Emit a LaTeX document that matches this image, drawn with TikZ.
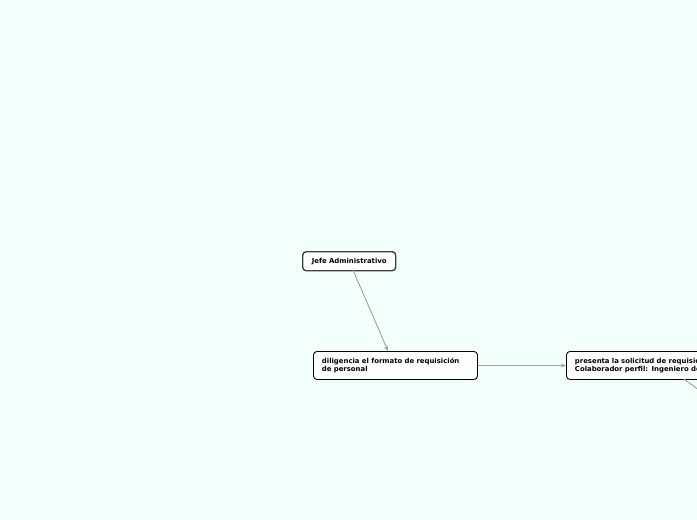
\documentclass[tikz,border=0pt]{standalone}
\usepackage{fontspec}
\setmainfont{DejaVu Sans}
\usetikzlibrary{arrows.meta}
\definecolor{bgc}{RGB}{242,255,250}
\definecolor{linec}{RGB}{160,160,160}
\tikzset{
  box/.style={draw=black, line width=0.9pt, fill=white, rounded corners=3.5pt, anchor=north west, align=left, inner xsep=8.5pt, inner ysep=0pt, font=\fontsize{6.9}{8.6}\selectfont\bfseries, text=black},
  rootbox/.style={box, draw=black!75, line width=1.4pt, inner xsep=0pt, align=center},
  conn/.style={draw=linec, line width=0.9pt, -{Stealth[length=5pt,width=4pt]}},
}
\begin{document}
\begin{tikzpicture}[x=1pt,y=1pt]
\useasboundingbox (0,0) rectangle (697,-520);
\clip (0,0) rectangle (697,-520);
\fill[bgc] (0,0) rectangle (697,-520);
\node[rootbox, minimum width=93pt, minimum height=19pt] (jefe) at (302,-251) {Jefe Administrativo};
\node[box, minimum width=164pt, minimum height=28pt, text width=147pt] (dil) at (313,-351) {diligencia el formato de requisición\\de personal};
\node[box, minimum width=190pt, minimum height=28pt, text width=173pt] (pres) at (566,-351) {presenta la solicitud de requisición\\Colaborador perfil: Ingeniero de};
\coordinate (off) at (715,-402);
\draw[conn] (353,-270) -- (388,-351);
\draw[conn] (dil.east) -- (pres.west);
\draw[draw=linec, line width=0.9pt] (684,-379) -- (off);
\end{tikzpicture}
\end{document}
